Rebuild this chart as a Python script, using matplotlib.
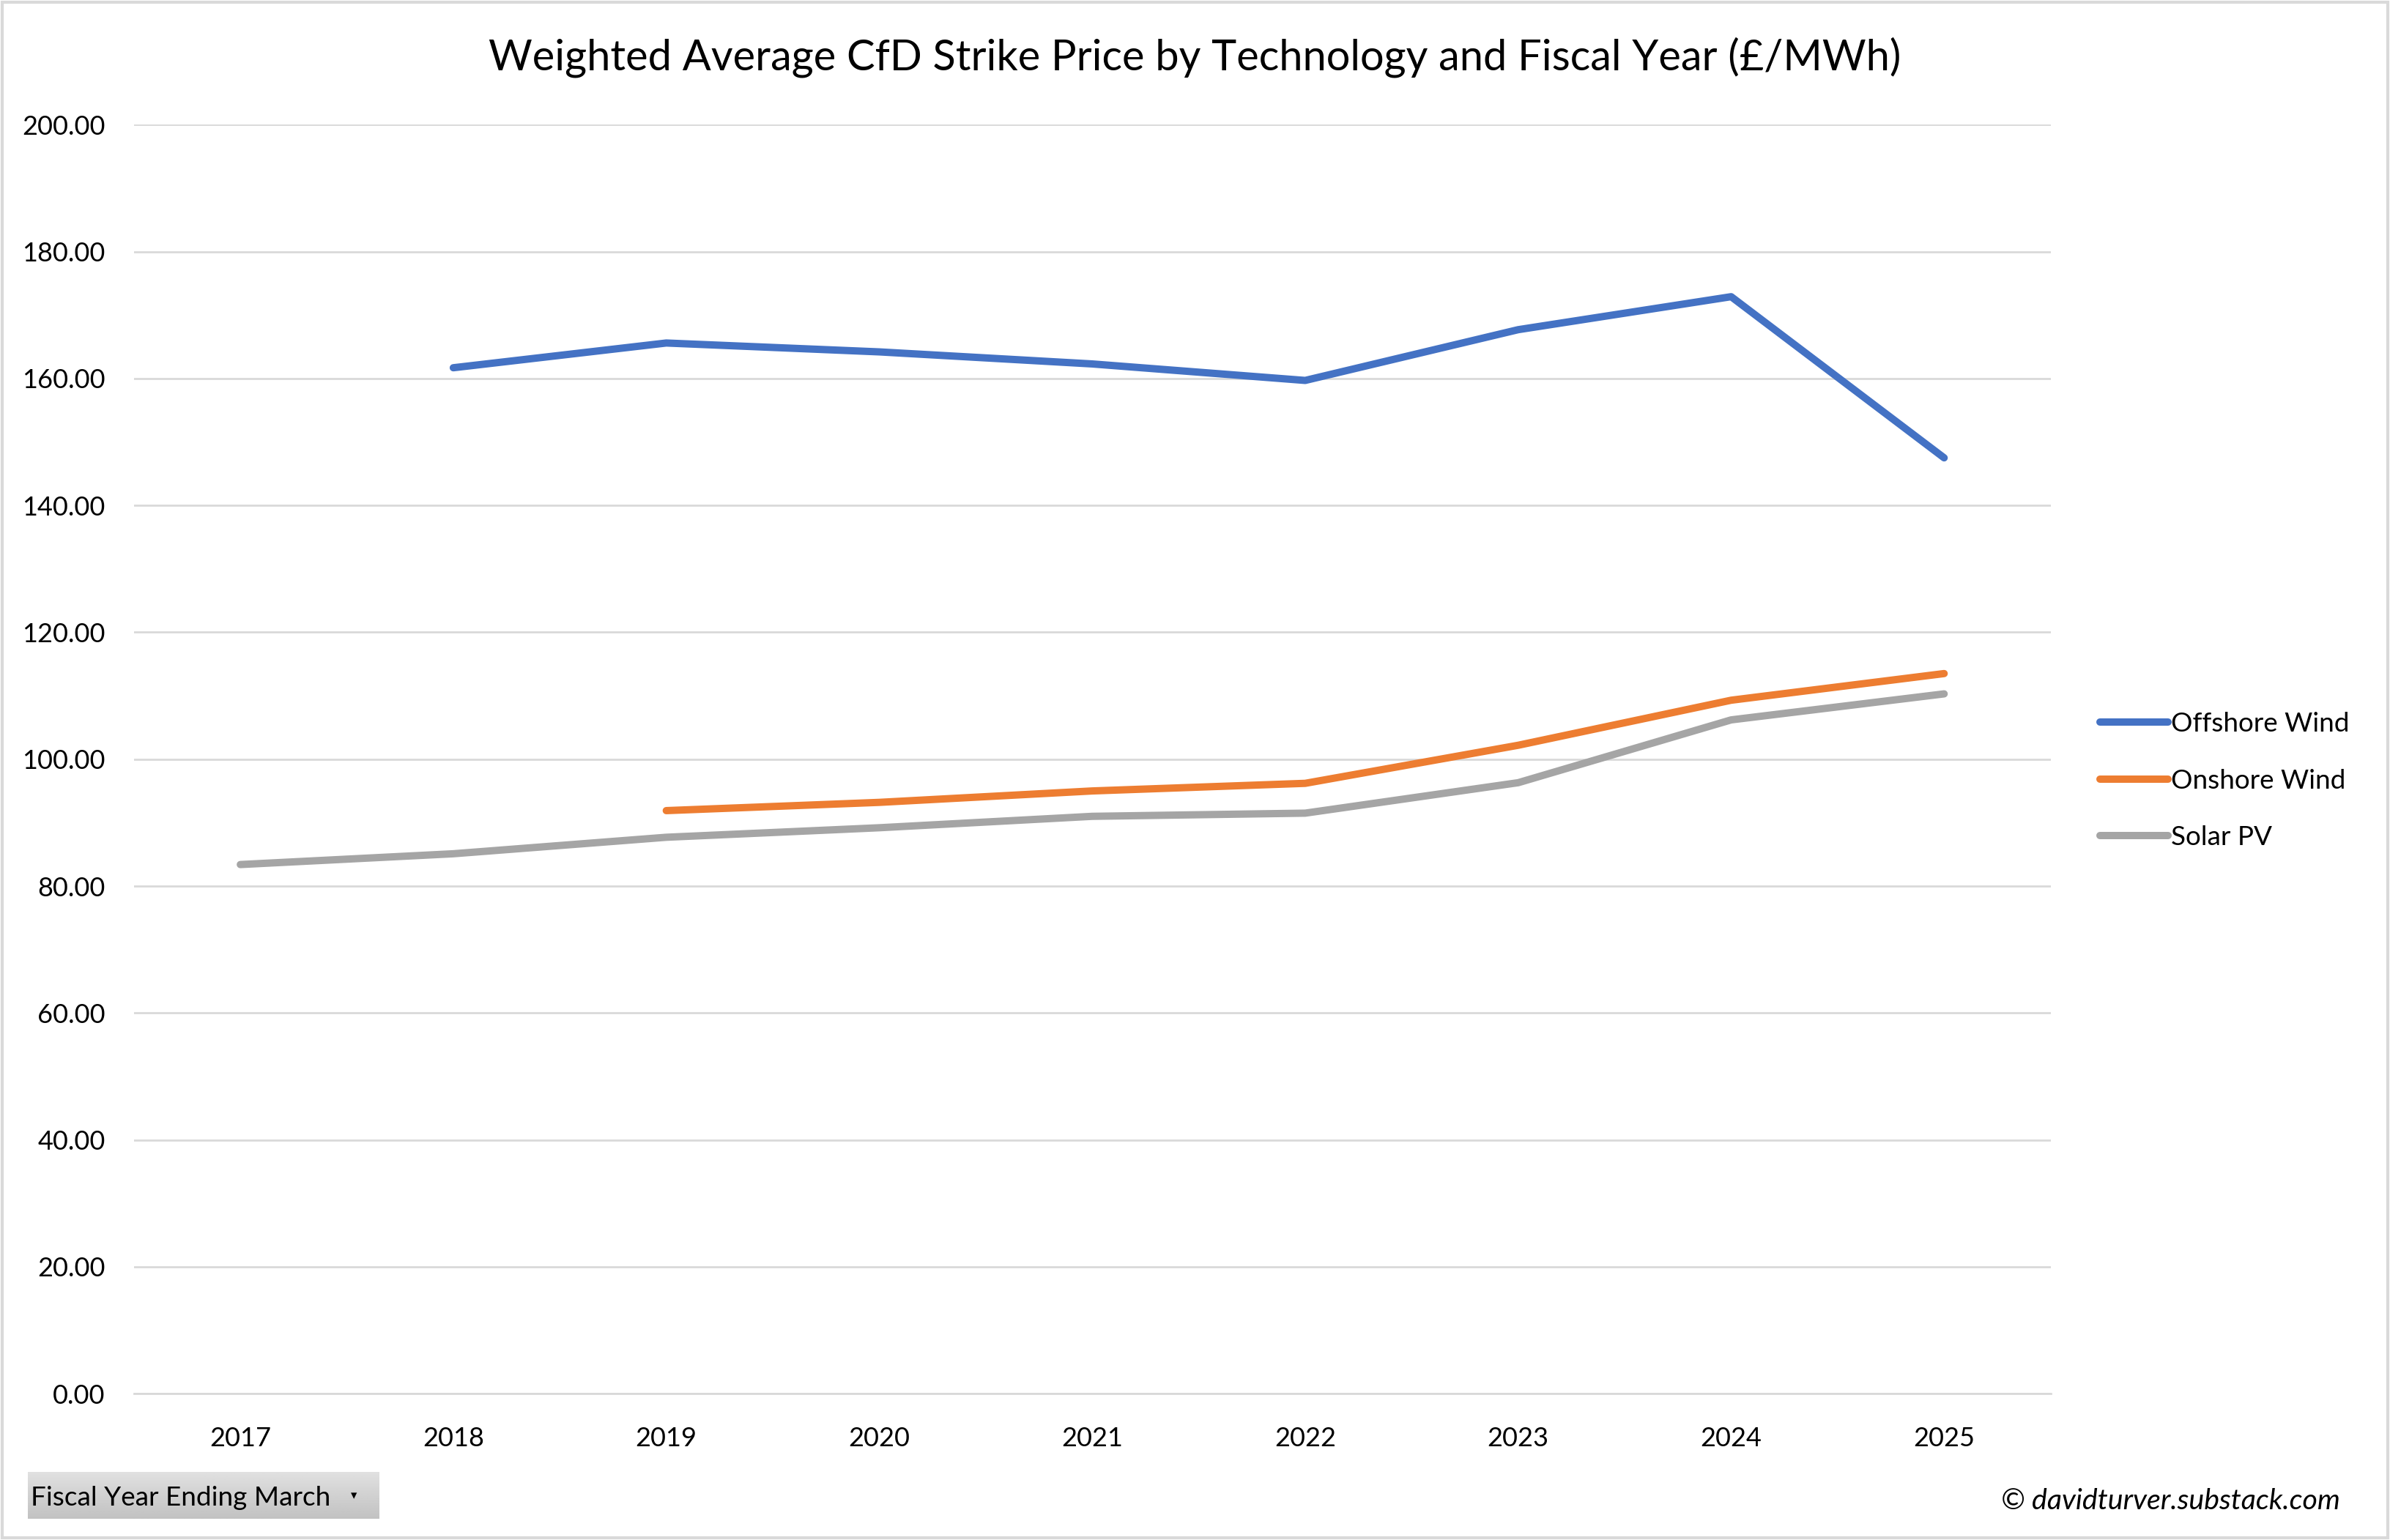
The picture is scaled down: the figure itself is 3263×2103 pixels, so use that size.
import numpy as np
import matplotlib.pyplot as plt
from matplotlib.patches import Rectangle

# --- data ---
years = ['2017', '2018', '2019', '2020', '2021', '2022', '2023', '2024', '2025']
offshore = [np.nan, 161.7, 165.6, 164.2, 162.3, 159.7, 167.7, 172.9, 147.5]
onshore = [np.nan, np.nan, 91.9, 93.2, 95.0, 96.2, 102.2, 109.3, 113.5]
solar = [83.4, 85.1, 87.7, 89.2, 91.0, 91.5, 96.3, 106.2, 110.3]
series_names = ['Offshore Wind', 'Onshore Wind', 'Solar PV']
series_colors = ['#4472C4', '#ED7D31', '#A5A5A5']
yticks = np.arange(0, 201, 20)

plt.rcParams['font.family'] = ['Lato', 'DejaVu Sans']

fig = plt.figure(figsize=(3263 / 200, 2103 / 200), dpi=200)
ax = fig.add_axes([0.056, 0.095, 0.802, 0.824])

x = np.arange(len(years))
for vals, name, col in zip([offshore, onshore, solar], series_names, series_colors):
    ax.plot(x, vals, color=col, lw=3.6, label=name, solid_capstyle='round')

ax.set_xlim(-0.5, len(years) - 0.5)
ax.set_ylim(0, 200)
ax.set_yticks(yticks)
ax.set_yticklabels([f'{v:.2f}' for v in yticks], fontsize=13)
ax.set_xticks(x)
ax.set_xticklabels(years, fontsize=13)
ax.tick_params(length=0, pad=14)
ax.tick_params(axis='x', pad=16)
ax.grid(axis='y', color='#D9D9D9', lw=1.0)
ax.set_axisbelow(True)
for s in ['top', 'right', 'left']:
    ax.spines[s].set_visible(False)
ax.spines['bottom'].set_color('#D9D9D9')
ax.spines['bottom'].set_linewidth(1.0)

fig.text(0.5, 0.963, 'Weighted Average CfD Strike Price by Technology and Fiscal Year (£/MWh)',
         ha='center', va='center', fontsize=20.8)

fig.legend(loc='center left', bbox_to_anchor=(0.8685, 0.493), frameon=False,
           fontsize=13.3, handlelength=2.5, handletextpad=0.12, labelspacing=1.2)

# pivot field button bottom-left
bax = fig.add_axes([0.0115, 0.014, 0.147, 0.030])
grad = np.linspace(0.88, 0.76, 50).reshape(-1, 1)
bax.imshow(grad, cmap='gray', vmin=0, vmax=1, aspect='auto', extent=[0, 1, 0, 1])
bax.set_axis_off()
bax.text(0.01, 0.45, 'Fiscal Year Ending March', va='center', ha='left', fontsize=13.3)
bax.text(0.93, 0.5, '▾', va='center', ha='center', fontsize=6, family='DejaVu Sans')

fig.text(0.979, 0.025, '© davidturver.substack.com', ha='right', va='center',
         fontsize=14.2, style='italic')

# chart border
fig.patches.append(Rectangle((0.0008, 0.0015), 0.9984, 0.997, transform=fig.transFigure,
                             fill=False, edgecolor='#D9D9D9', lw=1.5))

fig.savefig('out.png', dpi=200)
